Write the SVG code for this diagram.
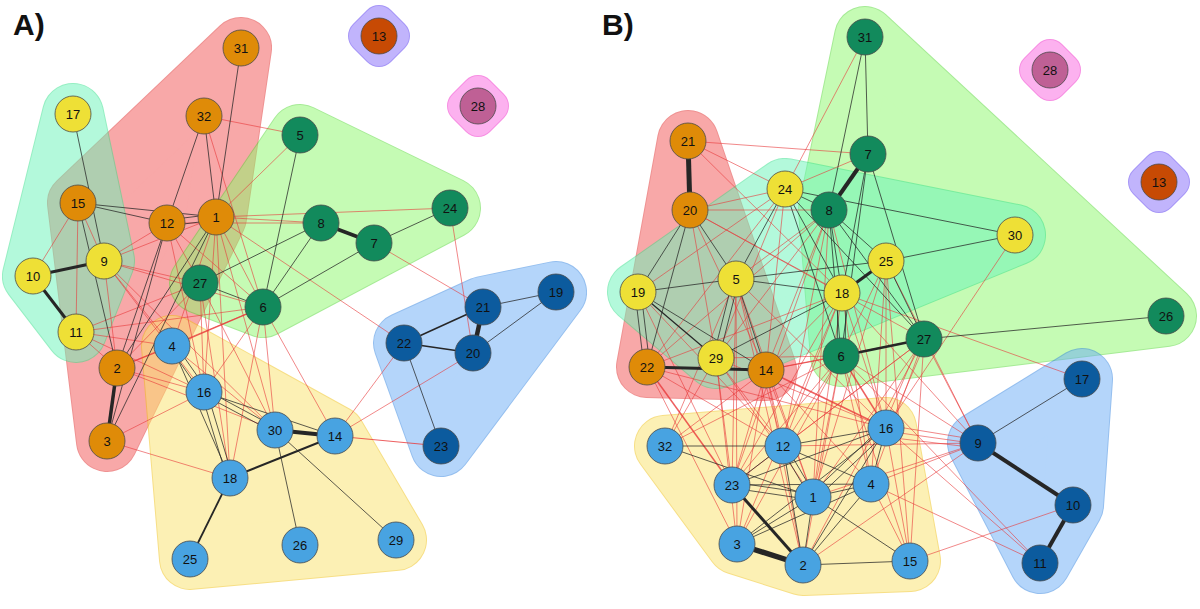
<svg xmlns="http://www.w3.org/2000/svg" width="1200" height="609" viewBox="0 0 1200 609">
<style>
.hl polygon{stroke-linejoin:round}
.hb{stroke-width:62}
.hf{stroke-width:60}
.k path{stroke:#262626;stroke-width:0.75;fill:none}
.r path{stroke:#E8383A;stroke-width:0.75;stroke-opacity:0.8;fill:none}
.n circle{stroke:#4a4a4a;stroke-width:0.8}
.n text{font-family:"Liberation Sans",Arial,sans-serif;font-size:13px;fill:#111;text-anchor:middle}
.or circle{fill:#DF8B08}
.ye circle{fill:#EEE036}
.gr circle{fill:#128A5C}
.lb circle{fill:#48A3E1}
.db circle{fill:#0C5B9E}
.o13 circle{fill:#C74A04}
.m28 circle{fill:#BF6095}
.lbl{font-family:"Liberation Sans",Arial,sans-serif;font-size:30px;font-weight:bold;fill:#111}
</style>
<rect width="1200" height="609" fill="#fff"/>
<text class="lbl" x="13" y="35">A)</text>
<text class="lbl" x="602" y="35">B)</text>

<!-- ===== Panel A hulls ===== -->
<g id="a-hulls" class="hl">
 <g opacity="0.5"><polygon class="hb" fill="#F35353" stroke="#E02828" points="241,48 216,217 107,441 78,203"/><polygon class="hf" fill="#F35353" stroke="#F35353" points="241,48 216,217 107,441 78,203"/></g>
 <g opacity="0.5"><polygon class="hb" fill="#FBE36B" stroke="#F0C010" points="172,346 335,436 396,540 190,559"/><polygon class="hf" fill="#FBE36B" stroke="#FBE36B" points="172,346 335,436 396,540 190,559"/></g>
 <g opacity="0.5"><polygon class="hb" fill="#8DF96B" stroke="#50D830" points="300,135 450,208 263,307 200,283"/><polygon class="hf" fill="#8DF96B" stroke="#8DF96B" points="300,135 450,208 263,307 200,283"/></g>
 <g opacity="0.5"><polygon class="hb" fill="#69F5B9" stroke="#30E088" points="73,114 104,261 76,332 33,276"/><polygon class="hf" fill="#69F5B9" stroke="#69F5B9" points="73,114 104,261 76,332 33,276"/></g>
 <g opacity="0.5"><polygon class="hb" fill="#6BADF7" stroke="#2E80E0" points="404,343 483,307 556,292 441,446"/><polygon class="hf" fill="#6BADF7" stroke="#6BADF7" points="404,343 483,307 556,292 441,446"/></g>
 <g opacity="0.5"><polygon fill="#856BFB" stroke="#5030F0" stroke-width="34" points="379,22 393,36 379,50 365,36"/><polygon fill="#856BFB" stroke="#856BFB" stroke-width="32" points="379,22 393,36 379,50 365,36"/></g>
 <g opacity="0.5"><polygon fill="#FB65E1" stroke="#F020C8" stroke-width="34" points="478,92 492,106 478,120 464,106"/><polygon fill="#FB65E1" stroke="#FB65E1" stroke-width="32" points="478,92 492,106 478,120 464,106"/></g>
</g>

<!-- ===== Panel A connectors ===== -->
<g id="a-edges">
 <g class="r">
  <path d="M204 116L300 135"/><path d="M204 116L263 307"/><path d="M216 217L300 135"/>
  <path d="M167 223L321 223"/><path d="M216 217L321 223"/><path d="M216 217L450 208"/>
  <path d="M216 217L404 343"/><path d="M216 217L263 307"/><path d="M216 217L172 346"/>
  <path d="M216 217L204 392"/><path d="M216 217L275 430"/><path d="M216 217L230 478"/>
  <path d="M167 223L200 283"/><path d="M167 223L263 307"/><path d="M167 223L204 392"/>
  <path d="M78 203L104 261"/><path d="M78 203L33 276"/><path d="M78 203L76 332"/>
  <path d="M104 261L167 223"/><path d="M104 261L216 217"/><path d="M104 261L200 283"/>
  <path d="M104 261L263 307"/><path d="M104 261L172 346"/><path d="M104 261L204 392"/>
  <path d="M104 261L117 368"/><path d="M104 261L275 430"/>
  <path d="M76 332L172 346"/><path d="M76 332L263 307"/><path d="M76 332L200 283"/>
  <path d="M76 332L117 368"/><path d="M76 332L204 392"/>
  <path d="M117 368L172 346" style="stroke-width:1.3"/><path d="M117 368L263 307"/><path d="M117 368L200 283"/>
  <path d="M117 368L204 392"/><path d="M117 368L275 430"/>
  <path d="M107 441L204 392"/><path d="M107 441L230 478"/>
  <path d="M172 346L275 430"/><path d="M263 307L172 346" style="stroke-width:1.2"/>
  <path d="M200 283L204 392"/><path d="M200 283L230 478"/><path d="M200 283L275 430"/>
  <path d="M263 307L204 392"/><path d="M263 307L230 478"/><path d="M263 307L275 430"/><path d="M263 307L335 436"/>
  <path d="M374 243L483 307"/><path d="M450 208L473 353"/>
  <path d="M335 436L404 343"/><path d="M335 436L473 353"/><path d="M335 436L441 446" style="stroke-width:1.2"/>
 </g>
 <g class="k">
  <path d="M241 48L216 217"/><path d="M204 116L167 223"/><path d="M204 116L216 217"/>
  <path d="M78 203L167 223"/><path d="M78 203L216 217"/>
  <path d="M167 220L216 214"/><path d="M167 226L216 220"/>
  <path d="M167 223L117 368"/><path d="M167 223L107 441"/><path d="M216 217L117 368"/><path d="M216 217L107 441"/>
  <path d="M78 203L117 368"/><path d="M73 114L104 261"/>
  <path d="M300 135L263 307"/><path d="M321 223L200 283"/><path d="M321 223L263 307"/>
  <path d="M374 243L263 307"/><path d="M200 283L263 307"/><path d="M374 243L450 208"/>
  <path d="M404 343L441 446"/><path d="M483 307L556 292"/><path d="M473 353L556 292"/>
  <path d="M170 348L202 394"/><path d="M175 344L207 390"/>
  <path d="M204 389L275 427"/><path d="M204 395L275 433"/>
  <path d="M201 392L227 478"/><path d="M207 392L233 478"/>
  <path d="M172 346L230 478"/><path d="M204 392L335 436"/>
  <path d="M275 430L300 545"/><path d="M275 430L396 540"/>
  <path d="M404 343L483 307" style="stroke-width:1.5"/><path d="M404 343L473 353" style="stroke-width:1.5"/>
  <path d="M230 478L190 559" style="stroke-width:1.8"/><path d="M230 478L335 436" style="stroke-width:2"/>
  <path d="M33 276L104 261" style="stroke-width:3"/><path d="M33 276L76 332" style="stroke-width:3"/>
  <path d="M117 368L107 441" style="stroke-width:3.5"/><path d="M321 223L374 243" style="stroke-width:3.5"/>
  <path d="M483 307L473 353" style="stroke-width:4.5"/><path d="M275 430L335 436" style="stroke-width:4"/>
 </g>
</g>

<!-- ===== Panel A nodes ===== -->
<g id="a-nodes">
 <g id="a-n1" class="n or"><circle cx="216" cy="217" r="18"/><text x="216" y="222">1</text></g>
 <g id="a-n2" class="n or"><circle cx="117" cy="368" r="18"/><text x="117" y="373">2</text></g>
 <g id="a-n3" class="n or"><circle cx="107" cy="441" r="18"/><text x="107" y="446">3</text></g>
 <g id="a-n4" class="n lb"><circle cx="172" cy="346" r="18"/><text x="172" y="351">4</text></g>
 <g id="a-n5" class="n gr"><circle cx="300" cy="135" r="18"/><text x="300" y="140">5</text></g>
 <g id="a-n6" class="n gr"><circle cx="263" cy="307" r="18"/><text x="263" y="312">6</text></g>
 <g id="a-n7" class="n gr"><circle cx="374" cy="243" r="18"/><text x="374" y="248">7</text></g>
 <g id="a-n8" class="n gr"><circle cx="321" cy="223" r="18"/><text x="321" y="228">8</text></g>
 <g id="a-n9" class="n ye"><circle cx="104" cy="261" r="18"/><text x="104" y="266">9</text></g>
 <g id="a-n10" class="n ye"><circle cx="33" cy="276" r="18"/><text x="33" y="281">10</text></g>
 <g id="a-n11" class="n ye"><circle cx="76" cy="332" r="18"/><text x="76" y="337">11</text></g>
 <g id="a-n12" class="n or"><circle cx="167" cy="223" r="18"/><text x="167" y="228">12</text></g>
 <g id="a-n13" class="n o13"><circle cx="379" cy="36" r="18"/><text x="379" y="41">13</text></g>
 <g id="a-n14" class="n lb"><circle cx="335" cy="436" r="18"/><text x="335" y="441">14</text></g>
 <g id="a-n15" class="n or"><circle cx="78" cy="203" r="18"/><text x="78" y="208">15</text></g>
 <g id="a-n16" class="n lb"><circle cx="204" cy="392" r="18"/><text x="204" y="397">16</text></g>
 <g id="a-n17" class="n ye"><circle cx="73" cy="114" r="18"/><text x="73" y="119">17</text></g>
 <g id="a-n18" class="n lb"><circle cx="230" cy="478" r="18"/><text x="230" y="483">18</text></g>
 <g id="a-n19" class="n db"><circle cx="556" cy="292" r="18"/><text x="556" y="297">19</text></g>
 <g id="a-n20" class="n db"><circle cx="473" cy="353" r="18"/><text x="473" y="358">20</text></g>
 <g id="a-n21" class="n db"><circle cx="483" cy="307" r="18"/><text x="483" y="312">21</text></g>
 <g id="a-n22" class="n db"><circle cx="404" cy="343" r="18"/><text x="404" y="348">22</text></g>
 <g id="a-n23" class="n db"><circle cx="441" cy="446" r="18"/><text x="441" y="451">23</text></g>
 <g id="a-n24" class="n gr"><circle cx="450" cy="208" r="18"/><text x="450" y="213">24</text></g>
 <g id="a-n25" class="n lb"><circle cx="190" cy="559" r="18"/><text x="190" y="564">25</text></g>
 <g id="a-n26" class="n lb"><circle cx="300" cy="545" r="18"/><text x="300" y="550">26</text></g>
 <g id="a-n27" class="n gr"><circle cx="200" cy="283" r="18"/><text x="200" y="288">27</text></g>
 <g id="a-n28" class="n m28"><circle cx="478" cy="106" r="18"/><text x="478" y="111">28</text></g>
 <g id="a-n29" class="n lb"><circle cx="396" cy="540" r="18"/><text x="396" y="545">29</text></g>
 <g id="a-n30" class="n lb"><circle cx="275" cy="430" r="18"/><text x="275" y="435">30</text></g>
 <g id="a-n31" class="n or"><circle cx="241" cy="48" r="18"/><text x="241" y="53">31</text></g>
 <g id="a-n32" class="n or"><circle cx="204" cy="116" r="18"/><text x="204" y="121">32</text></g>
</g>

<!-- ===== Panel B hulls ===== -->
<g id="b-hulls" class="hl">
 <g opacity="0.5"><polygon class="hb" fill="#F35353" stroke="#E02828" points="688,141 766,370 647,367"/><polygon class="hf" fill="#F35353" stroke="#F35353" points="688,141 766,370 647,367"/></g>
 <g opacity="0.5"><polygon class="hb" fill="#FBE36B" stroke="#F0C010" points="665,446 886,428 910,561 803,565 737,544"/><polygon class="hf" fill="#FBE36B" stroke="#FBE36B" points="665,446 886,428 910,561 803,565 737,544"/></g>
 <g opacity="0.5"><polygon class="hb" fill="#8DF96B" stroke="#50D830" points="865,37 1166,316 841,356 829,210"/><polygon class="hf" fill="#8DF96B" stroke="#8DF96B" points="865,37 1166,316 841,356 829,210"/></g>
 <g opacity="0.5"><polygon class="hb" fill="#69F5B9" stroke="#30E088" points="638,292 785,189 1015,235 716,358"/><polygon class="hf" fill="#69F5B9" stroke="#69F5B9" points="638,292 785,189 1015,235 716,358"/></g>
 <g opacity="0.5"><polygon class="hb" fill="#6BADF7" stroke="#2E80E0" points="1082,379 1073,505 1040,563 978,443"/><polygon class="hf" fill="#6BADF7" stroke="#6BADF7" points="1082,379 1073,505 1040,563 978,443"/></g>
 <g opacity="0.5"><polygon fill="#FB65E1" stroke="#F020C8" stroke-width="34" points="1050,56 1064,70 1050,84 1036,70"/><polygon fill="#FB65E1" stroke="#FB65E1" stroke-width="32" points="1050,56 1064,70 1050,84 1036,70"/></g>
 <g opacity="0.5"><polygon fill="#856BFB" stroke="#5030F0" stroke-width="34" points="1159,168 1173,182 1159,196 1145,182"/><polygon fill="#856BFB" stroke="#856BFB" stroke-width="32" points="1159,168 1173,182 1159,196 1145,182"/></g>
</g>

<!-- ===== Panel B connectors ===== -->
<g id="b-edges">
 <g class="r">
  <path d="M865 37L785 189"/><path d="M688 141L868 154"/><path d="M688 141L785 189"/><path d="M688 141L842 293"/>
  <path d="M690 210L785 189"/><path d="M690 210L829 210"/><path d="M690 210L842 293"/><path d="M690 210L924 339"/>
  <path d="M690 210L716 358"/><path d="M690 210L766 370"/>
  <path d="M785 189L868 154"/><path d="M785 189L716 358"/><path d="M785 189L766 370"/><path d="M785 189L647 367"/><path d="M785 189L638 292"/>
  <path d="M829 210L736 279"/><path d="M829 210L716 358"/><path d="M829 210L766 370"/><path d="M829 210L647 367"/>
  <path d="M829 210L886 428"/><path d="M829 210L783 446"/><path d="M829 210L732 485"/><path d="M829 210L813 497"/>
  <path d="M842 293L1082 379"/><path d="M842 293L886 428"/><path d="M842 293L813 497"/><path d="M842 293L783 446"/>
  <path d="M842 293L732 485"/><path d="M842 293L737 544"/><path d="M842 293L766 370"/><path d="M842 293L647 367"/>
  <path d="M842 293L978 443"/><path d="M842 293L871 484"/>
  <path d="M886 261L841 356"/><path d="M886 261L886 428"/><path d="M886 261L978 443"/><path d="M886 261L871 484"/>
  <path d="M886 261L910 561"/><path d="M886 261L813 497"/>
  <path d="M1015 235L886 428"/>
  <path d="M841 356L886 428" style="stroke-width:1.5"/><path d="M841 356L783 446"/><path d="M841 356L732 485"/>
  <path d="M841 356L813 497"/><path d="M841 356L803 565"/><path d="M841 356L737 544"/><path d="M841 356L871 484"/>
  <path d="M841 356L910 561"/><path d="M841 356L978 443"/><path d="M841 356L1040 563"/>
  <path d="M841 356L766 370" style="stroke-width:1.2"/><path d="M841 356L716 358"/><path d="M841 356L665 446"/>
  <path d="M921 339L883 428"/><path d="M927 339L889 428"/><path d="M924 339L978 443"/><path d="M924 339L910 561"/>
  <path d="M924 339L871 484"/><path d="M924 339L813 497"/><path d="M924 339L803 565"/><path d="M924 339L783 446"/>
  <path d="M924 339L766 370"/><path d="M924 339L732 485"/>
  <path d="M766 370L886 428" style="stroke-width:1.5"/><path d="M766 370L783 446"/><path d="M766 370L813 497"/>
  <path d="M766 370L732 485"/><path d="M766 370L803 565"/><path d="M766 370L665 446"/><path d="M766 370L871 484"/>
  <path d="M766 370L737 544"/>
  <path d="M716 358L732 485"/><path d="M716 358L737 544"/><path d="M716 358L783 446"/><path d="M716 358L665 446"/>
  <path d="M716 358L886 428"/><path d="M716 358L813 497"/>
  <path d="M647 367L732 485" style="stroke-width:1.5"/><path d="M665 446L736 279"/><path d="M647 367L737 544"/>
  <path d="M647 367L783 446"/><path d="M647 367L886 428"/>
  <path d="M638 292L783 446"/><path d="M638 292L732 485"/>
  <path d="M736 279L783 446"/><path d="M736 279L732 485"/><path d="M736 279L886 428"/><path d="M736 279L813 497"/>
  <path d="M736 279L737 544"/><path d="M736 279L803 565"/>
  <path d="M978 440L886 425"/><path d="M978 444L886 431"/><path d="M978 448L886 437"/>
  <path d="M978 443L871 484"/><path d="M978 443L803 565"/><path d="M978 443L813 497"/><path d="M978 443L783 446"/>
  <path d="M1073 505L910 561"/><path d="M1040 563L871 484"/><path d="M1040 563L886 428"/>
  <path d="M886 428L910 561"/><path d="M871 484L910 561"/>
 </g>
 <g class="k">
  <path d="M865 37L868 154"/><path d="M865 37L829 210"/>
  <path d="M868 154L842 293"/><path d="M868 154L841 356"/><path d="M868 154L924 339"/>
  <path d="M829 210L842 293"/><path d="M829 210L841 356"/><path d="M829 210L886 261"/><path d="M829 210L924 339"/>
  <path d="M785 189L1015 235"/><path d="M785 189L829 210"/><path d="M785 189L736 279"/><path d="M785 189L842 293"/>
  <path d="M785 189L841 356"/><path d="M785 189L924 339"/>
  <path d="M886 261L1015 235"/><path d="M886 261L924 339"/>
  <path d="M838 293L837 356"/><path d="M846 293L845 356"/>
  <path d="M924 339L1166 316"/>
  <path d="M736 279L638 292"/><path d="M736 279L886 261"/><path d="M736 279L842 293"/>
  <path d="M733 279L713 358"/><path d="M739 279L719 358"/><path d="M736 279L766 370"/>
  <path d="M690 210L736 279"/><path d="M690 210L638 292"/><path d="M690 210L647 367"/>
  <path d="M638 292L716 358" style="stroke-width:1.2"/><path d="M635 292L644 367"/><path d="M641 292L650 367"/>
  <path d="M638 292L766 370"/><path d="M716 358L842 293"/>
  <path d="M665 446L783 446"/><path d="M665 446L813 497"/>
  <path d="M783 446L886 428"/><path d="M780 446L810 497"/><path d="M786 446L816 497"/>
  <path d="M783 446L803 565"/><path d="M783 446L871 484"/><path d="M732 485L783 446"/>
  <path d="M732 482L813 494"/><path d="M732 488L813 500"/><path d="M732 485L871 484"/><path d="M732 485L886 428"/>
  <path d="M737 544L813 497"/><path d="M737 544L871 484"/><path d="M737 544L886 428"/>
  <path d="M803 565L813 497"/><path d="M803 565L871 484"/><path d="M803 565L886 428"/><path d="M803 565L910 561"/>
  <path d="M810 495L883 426"/><path d="M816 499L889 430"/><path d="M813 497L871 484"/><path d="M813 497L910 561"/>
  <path d="M871 484L886 428"/>
  <path d="M978 443L1082 379"/>
  <path d="M868 154L829 210" style="stroke-width:4"/>
  <path d="M886 261L842 293" style="stroke-width:3"/>
  <path d="M841 356L924 339" style="stroke-width:2.5"/>
  <path d="M690 210L688 141" style="stroke-width:5"/>
  <path d="M647 367L766 370" style="stroke-width:3"/>
  <path d="M732 485L803 565" style="stroke-width:3"/>
  <path d="M737 544L803 565" style="stroke-width:5.5"/>
  <path d="M978 443L1073 505" style="stroke-width:4"/>
  <path d="M1073 505L1040 563" style="stroke-width:4"/>
 </g>
</g>

<!-- ===== Panel B nodes ===== -->
<g id="b-nodes">
 <g id="b-n1" class="n lb"><circle cx="813" cy="497" r="18"/><text x="813" y="502">1</text></g>
 <g id="b-n2" class="n lb"><circle cx="803" cy="565" r="18"/><text x="803" y="570">2</text></g>
 <g id="b-n3" class="n lb"><circle cx="737" cy="544" r="18"/><text x="737" y="549">3</text></g>
 <g id="b-n4" class="n lb"><circle cx="871" cy="484" r="18"/><text x="871" y="489">4</text></g>
 <g id="b-n5" class="n ye"><circle cx="736" cy="279" r="18"/><text x="736" y="284">5</text></g>
 <g id="b-n6" class="n gr"><circle cx="841" cy="356" r="18"/><text x="841" y="361">6</text></g>
 <g id="b-n7" class="n gr"><circle cx="868" cy="154" r="18"/><text x="868" y="159">7</text></g>
 <g id="b-n8" class="n gr"><circle cx="829" cy="210" r="18"/><text x="829" y="215">8</text></g>
 <g id="b-n9" class="n db"><circle cx="978" cy="443" r="18"/><text x="978" y="448">9</text></g>
 <g id="b-n10" class="n db"><circle cx="1073" cy="505" r="18"/><text x="1073" y="510">10</text></g>
 <g id="b-n11" class="n db"><circle cx="1040" cy="563" r="18"/><text x="1040" y="568">11</text></g>
 <g id="b-n12" class="n lb"><circle cx="783" cy="446" r="18"/><text x="783" y="451">12</text></g>
 <g id="b-n13" class="n o13"><circle cx="1159" cy="182" r="18"/><text x="1159" y="187">13</text></g>
 <g id="b-n14" class="n or"><circle cx="766" cy="370" r="18"/><text x="766" y="375">14</text></g>
 <g id="b-n15" class="n lb"><circle cx="910" cy="561" r="18"/><text x="910" y="566">15</text></g>
 <g id="b-n16" class="n lb"><circle cx="886" cy="428" r="18"/><text x="886" y="433">16</text></g>
 <g id="b-n17" class="n db"><circle cx="1082" cy="379" r="18"/><text x="1082" y="384">17</text></g>
 <g id="b-n18" class="n ye"><circle cx="842" cy="293" r="18"/><text x="842" y="298">18</text></g>
 <g id="b-n19" class="n ye"><circle cx="638" cy="292" r="18"/><text x="638" y="297">19</text></g>
 <g id="b-n20" class="n or"><circle cx="690" cy="210" r="18"/><text x="690" y="215">20</text></g>
 <g id="b-n21" class="n or"><circle cx="688" cy="141" r="18"/><text x="688" y="146">21</text></g>
 <g id="b-n22" class="n or"><circle cx="647" cy="367" r="18"/><text x="647" y="372">22</text></g>
 <g id="b-n23" class="n lb"><circle cx="732" cy="485" r="18"/><text x="732" y="490">23</text></g>
 <g id="b-n24" class="n ye"><circle cx="785" cy="189" r="18"/><text x="785" y="194">24</text></g>
 <g id="b-n25" class="n ye"><circle cx="886" cy="261" r="18"/><text x="886" y="266">25</text></g>
 <g id="b-n26" class="n gr"><circle cx="1166" cy="316" r="18"/><text x="1166" y="321">26</text></g>
 <g id="b-n27" class="n gr"><circle cx="924" cy="339" r="18"/><text x="924" y="344">27</text></g>
 <g id="b-n28" class="n m28"><circle cx="1050" cy="70" r="18"/><text x="1050" y="75">28</text></g>
 <g id="b-n29" class="n ye"><circle cx="716" cy="358" r="18"/><text x="716" y="363">29</text></g>
 <g id="b-n30" class="n ye"><circle cx="1015" cy="235" r="18"/><text x="1015" y="240">30</text></g>
 <g id="b-n31" class="n gr"><circle cx="865" cy="37" r="18"/><text x="865" y="42">31</text></g>
 <g id="b-n32" class="n lb"><circle cx="665" cy="446" r="18"/><text x="665" y="451">32</text></g>
</g>
</svg>
